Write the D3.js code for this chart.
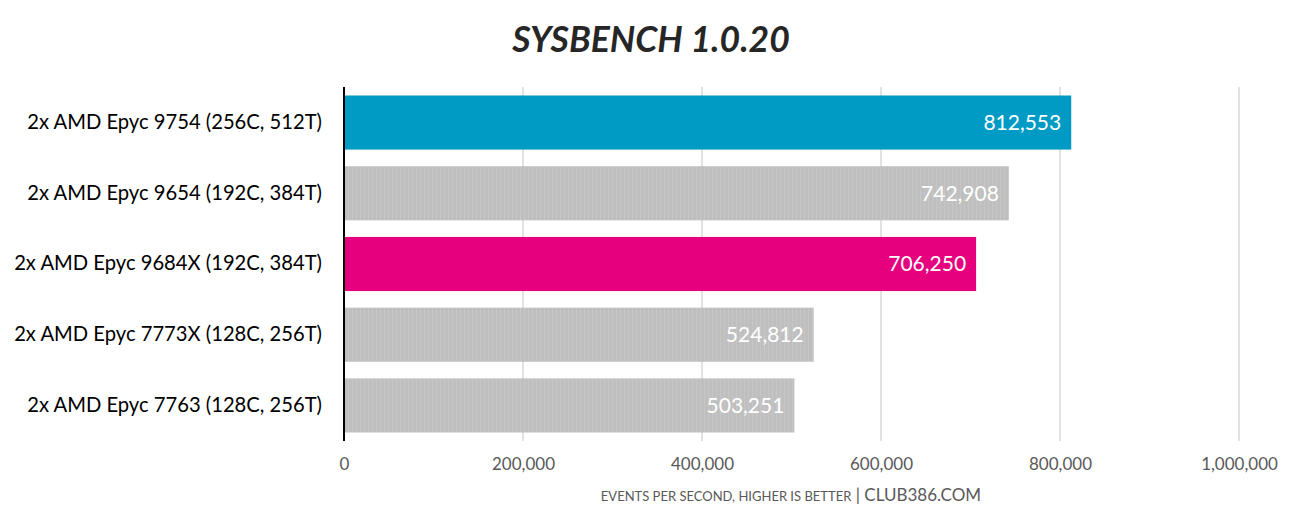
<!DOCTYPE html>
<html><head><meta charset="utf-8">
<script src="https://cdn.jsdelivr.net/npm/d3@7"></script>
<style>body{margin:0;background:#fff}</style>
</head><body>
<svg id="c" width="1300" height="531"></svg>
<script>
const categories = ["2x AMD Epyc 9754 (256C, 512T)","2x AMD Epyc 9654 (192C, 384T)","2x AMD Epyc 9684X (192C, 384T)","2x AMD Epyc 7773X (128C, 256T)","2x AMD Epyc 7763 (128C, 256T)"];
const values = [812553, 742908, 706250, 524812, 503251];
const barColors = ["#009bc5","gray","#e6007e","gray","gray"];
const tickValues = [0,200000,400000,600000,800000,1000000];
const title = "SYSBENCH 1.0.20";

const font = "Lato, 'Open Sans', sans-serif";
const svg = d3.select("#c");
const defs = svg.append("defs");
const pat = defs.append("pattern").attr("id","stripe").attr("patternUnits","userSpaceOnUse").attr("width",4).attr("height",4);
pat.append("rect").attr("width",4).attr("height",4).attr("fill","#bfbfbf");
pat.append("rect").attr("x",0).attr("width",1).attr("height",4).attr("fill","#c6c6c6");

const x = d3.scaleLinear().domain([0,1000000]).range([344,1239]);
const y = d3.scaleBand().domain(categories).range([87,441]).paddingInner(0.235).paddingOuter(0.12);

svg.append("g").selectAll("line").data(tickValues.slice(1)).join("line")
  .attr("x1",d=>x(d)).attr("x2",d=>x(d)).attr("y1",87).attr("y2",441)
  .attr("stroke","#d9d9d9").attr("stroke-width",1.5);

svg.append("g").selectAll("rect").data(values).join("rect")
  .attr("x",x(0)).attr("y",(d,i)=>y(categories[i])).attr("height",y.bandwidth())
  .attr("width",d=>x(d)-x(0))
  .attr("fill",(d,i)=>barColors[i]==="gray"?"url(#stripe)":barColors[i]);

svg.append("g").selectAll("text").data(values).join("text")
  .attr("x",d=>x(d)-10).attr("y",(d,i)=>y(categories[i])+y.bandwidth()/2)
  .attr("dy","0.35em").attr("text-anchor","end").attr("fill","#fff")
  .style("font-family",font).style("font-size","21px")
  .text(d=>d3.format(",")(d));

svg.append("line").attr("x1",344).attr("x2",344).attr("y1",87).attr("y2",441).attr("stroke","#000").attr("stroke-width",2);

const xAxis = svg.append("g").attr("transform","translate(0,441)")
  .call(d3.axisBottom(x).tickValues(tickValues).tickFormat(d3.format(",")).tickSize(0).tickPadding(17));
xAxis.select(".domain").remove();
xAxis.selectAll("text").attr("fill","#595959").style("font-family",font).style("font-size","17px");

const yAxis = svg.append("g").attr("transform","translate(344,0)")
  .call(d3.axisLeft(y).tickSize(0).tickPadding(22));
yAxis.select(".domain").remove();
yAxis.selectAll("text").attr("fill","#000").style("font-family",font).style("font-size","20.2px");

svg.append("text").attr("x",651).attr("y",52).attr("text-anchor","middle")
  .style("font-family",font).style("font-size","35.5px").style("font-weight","bold").style("font-style","italic")
  .attr("fill","#262626").text(title);

const sub = svg.append("text").attr("x",791).attr("y",501).attr("text-anchor","middle")
  .style("font-family",font).attr("fill","#595959");
sub.append("tspan").style("font-size","13px").text("EVENTS PER SECOND, HIGHER IS BETTER");
sub.append("tspan").style("font-size","17px").text("  |  CLUB386.COM");
</script>
</body></html>
